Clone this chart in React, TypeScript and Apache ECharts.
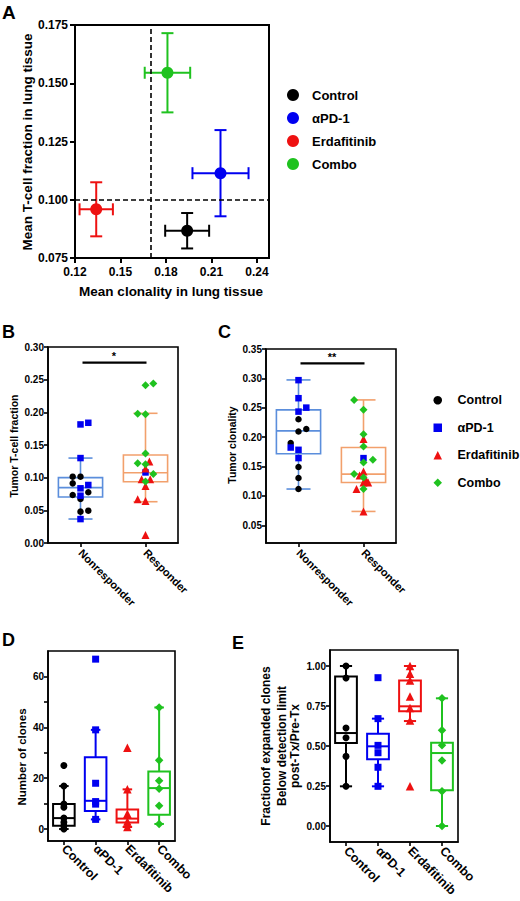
import React, { useEffect, useRef } from "react";
import * as echarts from "echarts";

const FONT = "'Liberation Sans', Arial, Helvetica, sans-serif";

const GROUPS = ["Control", "αPD-1", "Erdafitinib", "Combo"];
const GROUP_COLORS = ["#000000", "#0000F0", "#EE1111", "#1FC21F"];
const GROUP_SYMBOLS = ["circle", "rect", "triangle", "diamond"];

// ---------- Panel A ----------
const aClonality = [0.194, 0.216, 0.134, 0.181];
const aClonalityErr = [0.0145, 0.0185, 0.011, 0.015];
const aTcell = [0.0867, 0.1114, 0.0959, 0.1545];
const aTcellErr = [0.0076, 0.0185, 0.0116, 0.017];
const aRefClonality = 0.17;
const aRefTcell = 0.097;
const aXTicks = [0.12, 0.15, 0.18, 0.21, 0.24];
const aYTicks = [0.075, 0.1, 0.125, 0.15, 0.175];

// ---------- Panels B & C ----------
const bcCategories = ["Nonresponder", "Responder"];
const bcBoxColors = ["#5B8EDC", "#F2A06C"];
// [value, jitter slot]
const bNonControl: [number, number][] = [[0.1015, -1], [0.1015, 0], [0.0913, -1], [0.0735, -1], [0.0776, 1], [0.0673, 0], [0.048, 0], [0.0495, 1]];
const bNonPD1: [number, number][] = [[0.1815, 0], [0.184, 1], [0.13, 0], [0.0837, 0], [0.0888, 1], [0.0724, 0], [0.0366, 0]];
const bResPD1: [number, number][] = [[0.108, 0]];
const bResErda: [number, number][] = [[0.1246, 0.5], [0.114, 0], [0.0975, -0.5], [0.0975, 0.6], [0.0872, 0], [0.0669, -1], [0.0643, 0], [0.0122, 0]];
const bResCombo: [number, number][] = [[0.2415, 0], [0.244, 1], [0.198, -1], [0.197, 0], [0.137, 0], [0.122, -1], [0.1205, 0], [0.1058, 1], [0.094, 0]];
// [min, q1, median, q3, max]
const bBoxes = [[0.0367, 0.0704, 0.0847, 0.1, 0.13], [0.0632, 0.0938, 0.1076, 0.1347, 0.1985]];
const bSignif = 0.276;
const bYTicks = [0, 0.05, 0.1, 0.15, 0.2, 0.25, 0.3];

const cNonControl: [number, number][] = [[0.2306, 0], [0.2096, 0], [0.214, 1], [0.19, -1], [0.1492, 0], [0.1305, 0], [0.1118, 0]];
const cNonPD1: [number, number][] = [[0.297, 0], [0.2663, 0], [0.2503, 1], [0.2435, 0], [0.1824, -1], [0.1785, 0], [0.1644, 0]];
const cResPD1: [number, number][] = [[0.1644, 0]];
const cResErda: [number, number][] = [[0.197, 0], [0.1417, 0], [0.135, -0.5], [0.128, 0.3], [0.123, 0.6], [0.123, 0], [0.1118, -0.9], [0.0737, 0]];
const cResCombo: [number, number][] = [[0.2634, -1.2], [0.2465, 0], [0.205, 0], [0.184, 0], [0.1615, 1.2], [0.157, 0], [0.1372, -1.2], [0.1315, 0], [0.1118, 0]];
const cBoxes = [[0.1118, 0.1717, 0.2108, 0.2464, 0.2974], [0.0737, 0.1229, 0.1371, 0.1824, 0.2634]];
const cSignif = 0.3257;
const cYTicks = [0.05, 0.1, 0.15, 0.2, 0.25, 0.3, 0.35];

// ---------- Panel D ----------
const dControl = [25, 16.9, 9.8, 8.6, 4.3, 2.7, 1.3, 0];
const dPD1 = [66.8, 39, 18, 10.8, 9.8, 3.8];
const dErda = [32, 15.6, 6, 3, 2.1, 0.8];
const dCombo = [47.8, 27, 19, 15.8, 9.2, 2];
const dBoxes = [[0, 1.3, 4.3, 9.8, 16.9], [3.8, 7.1, 11.1, 28.2, 39], [0.8, 2.6, 4.1, 7.7, 15.6], [2, 5.6, 16.1, 22.6, 47.8]];
const dYTicks = [0, 20, 40, 60];
const dYMinorTicks = [0, 10, 20, 30, 40, 50, 60];

// ---------- Panel E ----------
const eControl = [1.0, 0.925, 0.6125, 0.552, 0.435, 0.248];
const ePD1 = [0.927, 0.671, 0.504, 0.458, 0.367, 0.248];
const eErda = [1.0, 0.952, 0.91, 0.81, 0.737, 0.66, 0.248];
const eCombo = [0.798, 0.598, 0.504, 0.41, 0.217, 0];
const eBoxes = [[0.248, 0.519, 0.581, 0.935, 1.0], [0.248, 0.417, 0.498, 0.577, 0.671], [0.656, 0.717, 0.748, 0.91, 1.0], [0, 0.223, 0.456, 0.521, 0.798]];
const eYTicks = [0, 0.25, 0.5, 0.75, 1.0];

const JIT = 0.12;

function pts(cat: number, arr: [number, number][]) {
  return arr.map(([v, s]) => [cat + s * JIT, v]);
}

function txtStyle(size: number, align = "center", valign = "middle") {
  return {
    font: `bold ${size}px ${FONT}`,
    fill: "#000",
    textAlign: align,
    textVerticalAlign: valign,
    align,
    verticalAlign: valign,
  };
}

function gText(text: string, x: number, y: number, size: number, rot = 0, align = "center") {
  return { type: "text", x, y, rotation: rot, silent: true, style: { text, ...txtStyle(size, align) } };
}

function catXAxis(gi: number, cats: string[], fs: number, margin: number, lw: number) {
  const idx = cats.map((_, i) => i);
  return {
    type: "value",
    gridIndex: gi,
    min: -0.5,
    max: cats.length - 0.5,
    axisLine: { show: true, onZero: false, lineStyle: { color: "#000", width: lw } },
    axisTick: { show: true, length: 4, customValues: idx, lineStyle: { color: "#000", width: lw } },
    axisLabel: {
      customValues: idx,
      formatter: (v: number) => cats[Math.round(v)],
      rotate: -45,
      margin,
      fontSize: fs,
      fontWeight: "bold",
      color: "#000",
      fontFamily: FONT,
    },
    splitLine: { show: false },
  };
}

function valAxis(gi: number, min: number, max: number, ticks: number[], dec: number, fs: number, lw: number, margin: number, tickVals?: number[], tickLen = 4) {
  return {
    type: "value",
    gridIndex: gi,
    min,
    max,
    axisLine: { show: true, onZero: false, lineStyle: { color: "#000", width: lw } },
    axisTick: { show: true, length: tickLen, customValues: tickVals || ticks, lineStyle: { color: "#000", width: lw } },
    axisLabel: {
      customValues: ticks,
      formatter: (v: number) => v.toFixed(dec),
      margin,
      fontSize: fs,
      fontWeight: "bold",
      color: "#000",
      fontFamily: FONT,
    },
    splitLine: { show: false },
  };
}

function boxSeries(name: string, gi: number, boxes: number[][], colors: string[], boxFrac: number, capFrac: number, lw: number) {
  return {
    type: "custom",
    name,
    xAxisIndex: gi,
    yAxisIndex: gi,
    clip: false,
    z: 2,
    encode: { x: 0, y: [1, 2, 3, 4, 5] },
    data: boxes.map((b, i) => [i, ...b]),
    renderItem: (params: any, api: any) => {
      const x = api.value(0);
      const band = api.size([1, 0])[0];
      const hw = (band * boxFrac) / 2;
      const cw = (band * capFrac) / 2;
      const p = (v: number) => api.coord([x, v]);
      const cx = p(api.value(1))[0];
      const yMin = p(api.value(1))[1];
      const yQ1 = p(api.value(2))[1];
      const yMd = p(api.value(3))[1];
      const yQ3 = p(api.value(4))[1];
      const yMax = p(api.value(5))[1];
      const color = colors[params.dataIndex];
      const st = { stroke: color, lineWidth: lw, fill: "rgba(0,0,0,0)" };
      const ln = (x1: number, y1: number, x2: number, y2: number) => ({ type: "line", shape: { x1, y1, x2, y2 }, style: st });
      return {
        type: "group",
        children: [
          { type: "rect", shape: { x: cx - hw, y: yQ3, width: 2 * hw, height: yQ1 - yQ3 }, style: st },
          ln(cx - hw, yMd, cx + hw, yMd),
          ln(cx, yQ3, cx, yMax),
          ln(cx, yQ1, cx, yMin),
          ln(cx - cw, yMax, cx + cw, yMax),
          ln(cx - cw, yMin, cx + cw, yMin),
        ],
      };
    },
  };
}

function signifSeries(gi: number, y: number, label: string) {
  return {
    type: "custom",
    name: "signif" + gi,
    xAxisIndex: gi,
    yAxisIndex: gi,
    clip: false,
    encode: { x: [0, 1], y: 2 },
    data: [[0, 1, y]],
    renderItem: (_p: any, api: any) => {
      const a = api.coord([api.value(0), api.value(2)]);
      const b = api.coord([api.value(1), api.value(2)]);
      return {
        type: "group",
        children: [
          { type: "line", shape: { x1: a[0] + 2, y1: a[1], x2: b[0] + 1, y2: b[1] }, style: { stroke: "#000", lineWidth: 2.2 } },
          { type: "text", style: { text: label, x: (a[0] + b[0]) / 2 + 1, y: a[1] - 1, ...txtStyle(11, "center", "bottom") } },
        ],
      };
    },
  };
}

function scatter(name: string, gi: number, data: number[][], gIdx: number, size: number) {
  return {
    type: "scatter",
    name,
    xAxisIndex: gi,
    yAxisIndex: gi,
    z: 3,
    symbol: GROUP_SYMBOLS[gIdx],
    symbolSize: GROUP_SYMBOLS[gIdx] === "triangle" || GROUP_SYMBOLS[gIdx] === "diamond" ? size + 1.5 : size,
    itemStyle: { color: GROUP_COLORS[gIdx], opacity: 1 },
    data,
    clip: false,
  };
}

function App() {
  const ref = useRef<HTMLDivElement>(null);
  useEffect(() => {
    if (!ref.current) return;
    const chart = echarts.init(ref.current, null, { renderer: "svg" });

    const series: any[] = [];

    // Panel A
    series.push({
      type: "custom",
      name: "A errors",
      xAxisIndex: 0,
      yAxisIndex: 0,
      clip: false,
      z: 2,
      encode: { x: 0, y: 1 },
      data: aClonality.map((x, i) => [x, aTcell[i], aClonalityErr[i], aTcellErr[i], i]),
      renderItem: (_p: any, api: any) => {
        const x = api.value(0), y = api.value(1), xe = api.value(2), ye = api.value(3);
        const c = GROUP_COLORS[api.value(4)];
        const L = api.coord([x - xe, y]);
        const R = api.coord([x + xe, y]);
        const T = api.coord([x, y + ye]);
        const B = api.coord([x, y - ye]);
        const cap = 6;
        const st = { stroke: c, lineWidth: 2 };
        const ln = (x1: number, y1: number, x2: number, y2: number) => ({ type: "line", shape: { x1, y1, x2, y2 }, style: st });
        return {
          type: "group",
          children: [
            ln(L[0], L[1], R[0], R[1]),
            ln(B[0], B[1], T[0], T[1]),
            ln(L[0], L[1] - cap, L[0], L[1] + cap),
            ln(R[0], R[1] - cap, R[0], R[1] + cap),
            ln(T[0] - cap, T[1], T[0] + cap, T[1]),
            ln(B[0] - cap, B[1], B[0] + cap, B[1]),
          ],
        };
      },
    });
    GROUPS.forEach((g, i) => {
      const s: any = {
        type: "scatter",
        name: g,
        xAxisIndex: 0,
        yAxisIndex: 0,
        z: 3,
        symbol: "circle",
        symbolSize: 12,
        itemStyle: { color: GROUP_COLORS[i], opacity: 1 },
        data: [[aClonality[i], aTcell[i]]],
      };
      if (i === 0) {
        s.markLine = {
          silent: true,
          symbol: ["none", "none"],
          label: { show: false },
          lineStyle: { type: [5, 3], color: "#000", width: 1.6 },
          data: [{ xAxis: aRefClonality }, { yAxis: aRefTcell }],
        };
      }
      series.push(s);
    });

    // Panel B
    series.push(boxSeries("B box", 1, bBoxes, bcBoxColors, 0.68, 0.37, 1.6));
    series.push(scatter(GROUPS[0], 1, pts(0, bNonControl), 0, 6.5));
    series.push(scatter(GROUPS[1], 1, [...pts(0, bNonPD1), ...pts(1, bResPD1)], 1, 6.5));
    series.push(scatter(GROUPS[2], 1, pts(1, bResErda), 2, 6.5));
    series.push(scatter(GROUPS[3], 1, pts(1, bResCombo), 3, 6.5));
    series.push(signifSeries(1, bSignif, "*"));

    // Panel C
    series.push(boxSeries("C box", 2, cBoxes, bcBoxColors, 0.68, 0.37, 1.6));
    series.push(scatter(GROUPS[0], 2, pts(0, cNonControl), 0, 6.5));
    series.push(scatter(GROUPS[1], 2, [...pts(0, cNonPD1), ...pts(1, cResPD1)], 1, 6.5));
    series.push(scatter(GROUPS[2], 2, pts(1, cResErda), 2, 6.5));
    series.push(scatter(GROUPS[3], 2, pts(1, cResCombo), 3, 6.5));
    series.push(signifSeries(2, cSignif, "**"));

    // Panel D
    series.push(boxSeries("D box", 3, dBoxes, GROUP_COLORS, 0.68, 0.3, 2));
    [dControl, dPD1, dErda, dCombo].forEach((arr, i) => {
      series.push(scatter(GROUPS[i], 3, arr.map((v) => [i, v]), i, 7));
    });

    // Panel E
    series.push(boxSeries("E box", 4, eBoxes, GROUP_COLORS, 0.68, 0.38, 2));
    [eControl, ePD1, eErda, eCombo].forEach((arr, i) => {
      series.push(scatter(GROUPS[i], 4, arr.map((v) => [i, v]), i, 7));
    });

    const gridBase = { show: true, borderColor: "#000", backgroundColor: "rgba(0,0,0,0)", containLabel: false, outerBoundsMode: "none" };
    const legendText = { fontFamily: FONT, fontWeight: "bold", color: "#000" };

    const option: any = {
      animation: false,
      grid: [
        { ...gridBase, left: 75, top: 25, width: 194, height: 233, borderWidth: 2 },
        { ...gridBase, left: 48, top: 347, width: 130, height: 196, borderWidth: 1.6 },
        { ...gridBase, left: 266, top: 349, width: 130, height: 194, borderWidth: 1.6 },
        { ...gridBase, left: 48, top: 651, width: 127, height: 190, borderWidth: 1.6 },
        { ...gridBase, left: 330, top: 650, width: 128, height: 192, borderWidth: 1.6 },
      ],
      xAxis: [
        { ...valAxis(0, 0.12, 0.248, aXTicks, 2, 12, 2, 8, undefined, 5) },
        catXAxis(1, bcCategories, 11, 8, 1.6),
        catXAxis(2, bcCategories, 11, 8, 1.6),
        catXAxis(3, GROUPS, 12.5, 6, 1.6),
        catXAxis(4, GROUPS, 12.5, 7, 1.6),
      ],
      yAxis: [
        valAxis(0, 0.075, 0.175, aYTicks, 3, 12, 2, 7, undefined, 5),
        valAxis(1, 0, 0.3, bYTicks, 2, 10, 1.6, 4),
        valAxis(2, 0.02, 0.35, cYTicks, 2, 10, 1.6, 4),
        valAxis(3, -4.7, 70, dYTicks, 0, 10, 1.6, 4, dYMinorTicks),
        valAxis(4, -0.1, 1.1, eYTicks, 2, 10, 1.6, 4),
      ],
      legend: [
        {
          orient: "vertical",
          left: 287,
          top: 88.5,
          padding: 0,
          itemWidth: 12,
          itemHeight: 12,
          itemGap: 10,
          selectedMode: false,
          textStyle: { ...legendText, fontSize: 13, padding: [0, 0, 0, 8] },
          data: GROUPS.map((n) => ({ name: n, icon: "circle" })),
        },
        {
          orient: "vertical",
          left: 433.5,
          top: 393.75,
          padding: 0,
          itemWidth: 8.5,
          itemHeight: 8.5,
          itemGap: 14.5,
          selectedMode: false,
          textStyle: { ...legendText, fontSize: 12.5, padding: [0, 0, 0, 10.5] },
          data: GROUPS.map((n, i) => ({ name: n, icon: GROUP_SYMBOLS[i] })),
        },
      ],
      graphic: [
        gText("A", 2, 12, 19, 0, "left"),
        gText("Mean T-cell fraction in lung tissue", 27, 142, 13.5, Math.PI / 2),
        gText("Mean clonality in lung tissue", 171, 291, 13.5),
        gText("B", 2, 332, 18, 0, "left"),
        gText("Tumor T-cell fraction", 13.5, 446, 10.5, Math.PI / 2),
        gText("C", 218, 332, 18, 0, "left"),
        gText("Tumor clonality", 232, 445, 10.5, Math.PI / 2),
        gText("D", 2, 640, 18, 0, "left"),
        gText("Number of clones", 22, 757, 11.5, Math.PI / 2),
        gText("E", 232, 643, 18, 0, "left"),
        gText("Fractionof expanded clones", 266, 746, 12, Math.PI / 2),
        gText("Below detection limit", 281.5, 746, 12, Math.PI / 2),
        gText("post-Tx/Pre-Tx", 295, 746, 12, Math.PI / 2),
      ],
      series,
    };
    chart.setOption(option);
    return () => chart.dispose();
  }, []);
  return <div ref={ref} style={{ position: "absolute", left: 0, top: 0, width: 520, height: 901, background: "#fff" }} />;
}

export default App;
